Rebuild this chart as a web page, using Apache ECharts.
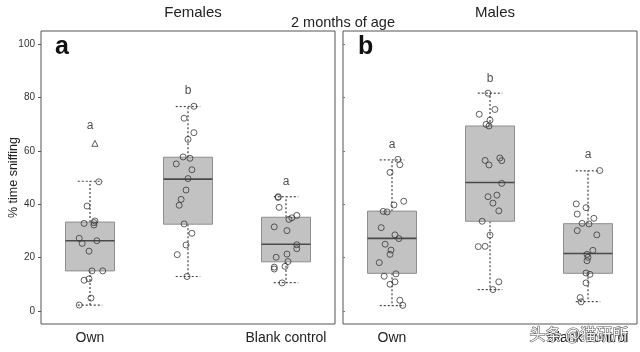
<!DOCTYPE html>
<html>
<head>
<meta charset="utf-8">
<script src="https://cdn.jsdelivr.net/npm/echarts@6/dist/echarts.min.js"></script>
<style>
  html, body { margin: 0; padding: 0; background: #fff; }
  #main { width: 640px; height: 352px; }
</style>
</head>
<body>
<div id="main"></div>
<script>
var groups = ['Own', 'Alien', 'Blank control'];
var yTicks = [0, 20, 40, 60, 80, 100];

// box stats: [low whisker, Q1, median, Q3, high whisker]
var femaleBoxes = [[2.2, 15, 26.3, 33.3, 48.6], [12.9, 32.5, 49.4, 57.6, 76.6], [10.6, 18.4, 25, 35.1, 42.8]];
var maleBoxes = [[2, 14.1, 27.2, 37.4, 56.6], [8, 33.6, 48.1, 69.3, 81.6], [3.5, 14.1, 21.5, 32.7, 52.5]];

// letters over each group
var femaleLetters = ['a', 'b', 'a'];
var maleLetters = ['a', 'b', 'a'];
var femaleLetterY = [69.3, 82.4, 48.4];
var maleLetterY = [62.4, 86.9, 58.4];

// individual animals (% time sniffing) and their horizontal jitter
var femaleOwn = [48.4, 39.3, 32.8, 33.7, 33.1, 32.2, 27.2, 25.3, 26.3, 22.4, 15, 15, 11.5, 12, 4.8, 2.2];
var femaleOwnJit = [.09, -.03, -.06, .05, .04, .04, -.11, -.08, .07, -.01, .02, .13, -.06, -.01, .01, -.11];
var femaleOwnOutlier = [62.8];
var femaleOwnOutlierJit = [.05];
var femaleAlien = [76.7, 72.2, 66.8, 64.3, 57.7, 57.2, 55.1, 52.9, 49.6, 45.3, 41.8, 39.6, 32.6, 29.1, 24.7, 21.1, 12.9];
var femaleAlienJit = [.06, -.04, .06, 0, -.05, .02, -.12, .04, 0, -.02, -.07, -.09, -.04, .04, -.02, -.11, -.01];
var femaleBlank = [42.8, 42.5, 38.8, 35.8, 34.9, 34.3, 31.5, 30.1, 24.8, 23.3, 21.3, 20.1, 18.5, 16.4, 15.7, 16.7, 10.5];
var femaleBlankJit = [-.08, -.08, -.07, .11, .06, .03, -.12, .01, .11, .11, .01, -.10, .02, -.12, -.12, -.01, -.04];

var maleOwn = [56.8, 54.8, 51.9, 41.1, 39.7, 37.3, 37.1, 31.2, 28.5, 27.1, 25, 22.8, 21.2, 18.1, 13.9, 13, 10.9, 10, 4, 2.1];
var maleOwnJit = [.06, .08, -.02, .12, .02, -.09, -.05, -.11, .03, .07, -.07, -.01, -.02, -.13, .04, -.08, .03, -.02, .08, .11];
var maleAlien = [81.6, 75.5, 73.7, 71.5, 69.9, 69.3, 56.4, 54.7, 57.3, 56.3, 47.8, 42.8, 43.4, 40.4, 37.5, 33.6, 28.4, 24.1, 24.2, 10.9, 8];
var maleAlienJit = [-.02, .05, -.11, 0, -.04, -.01, -.05, -.01, .10, .12, .12, -.02, .07, .03, .09, -.08, 0, -.12, -.05, .09, .03];
var maleBlank = [52.6, 40.1, 38.7, 36.3, 34.7, 32.8, 32.6, 30.1, 28.5, 22.7, 21.2, 20.1, 18.8, 14.2, 13.7, 10.5, 5, 3.4];
var maleBlankJit = [.12, -.12, -.02, -.11, .06, -.06, .01, -.11, .09, .05, -.01, 0, -.01, -.02, .02, -.02, -.08, -.07];

function jitterPoints(lists, jits, idx) {
    var out = [];
    for (var k = 0; k < lists.length; k++) {
        var g = idx[k];
        for (var j = 0; j < lists[k].length; j++) out.push([g + jits[k][j], lists[k][j]]);
    }
    return out;
}

var femalePts = jitterPoints([femaleOwn, femaleAlien, femaleBlank], [femaleOwnJit, femaleAlienJit, femaleBlankJit], [0, 1, 2]);
var malePts = jitterPoints([maleOwn, maleAlien, maleBlank], [maleOwnJit, maleAlienJit, maleBlankJit], [0, 1, 2]);
var femaleOutPts = jitterPoints([femaleOwnOutlier], [femaleOwnOutlierJit], [0]);

var FONT = '"Liberation Sans", Arial, sans-serif';
var dotted = { stroke: '#444', lineWidth: 1.2, lineDash: [2, 2] };

function renderBox(params, api) {
    var i = api.value(0);
    var w = api.size([1, 0])[0];
    var half = w * 0.25, cap = w * 0.125;
    var x = api.coord([i, 0])[0];
    var yLo = api.coord([i, api.value(1)])[1];
    var yQ1 = api.coord([i, api.value(2)])[1];
    var yMed = api.coord([i, api.value(3)])[1];
    var yQ3 = api.coord([i, api.value(4)])[1];
    var yHi = api.coord([i, api.value(5)])[1];
    return {
        type: 'group',
        children: [
            { type: 'line', shape: { x1: x, y1: yQ1, x2: x, y2: yLo }, style: dotted },
            { type: 'line', shape: { x1: x, y1: yQ3, x2: x, y2: yHi }, style: dotted },
            { type: 'line', shape: { x1: x - cap, y1: yLo, x2: x + cap, y2: yLo }, style: dotted },
            { type: 'line', shape: { x1: x - cap, y1: yHi, x2: x + cap, y2: yHi }, style: dotted },
            { type: 'rect', shape: { x: x - half, y: yQ3, width: half * 2, height: yQ1 - yQ3 },
              style: { fill: '#c2c2c2', stroke: '#8e8e8e', lineWidth: 1 } },
            { type: 'line', shape: { x1: x - half, y1: yMed, x2: x + half, y2: yMed },
              style: { stroke: '#4a4a4a', lineWidth: 1.6 } }
        ]
    };
}

function boxData(boxes) {
    return boxes.map(function (b, i) { return [i].concat(b); });
}
function letterData(letters, ys) {
    return letters.map(function (l, i) { return { name: l, value: [i, ys[i]] }; });
}

var chart = echarts.init(document.getElementById('main'));

var yBase = {
    type: 'value', min: -4.9, max: 104.9,
    splitLine: { show: false },
    axisLine: { show: false, onZero: false }
};
var catLabel = { fontSize: 14, color: '#222', margin: 7, fontFamily: FONT };

var option = {
    animation: false,
    backgroundColor: '#fff',
    textStyle: { fontFamily: FONT },
    title: [
        { text: 'Females', left: 188, top: 0, textAlign: 'center', textStyle: { fontSize: 15, fontWeight: 'normal', color: '#222', fontFamily: FONT } },
        { text: 'Males', left: 490, top: 0, textAlign: 'center', textStyle: { fontSize: 15, fontWeight: 'normal', color: '#222', fontFamily: FONT } },
        { text: '2 months of age', left: 338, top: 10, textAlign: 'center', textStyle: { fontSize: 14.5, fontWeight: 'normal', color: '#222', fontFamily: FONT } },
        { text: 'a', left: 50, top: 30, textStyle: { fontSize: 25, fontWeight: 'bold', color: '#111', fontFamily: FONT } },
        { text: 'b', left: 353, top: 30, textStyle: { fontSize: 25, fontWeight: 'bold', color: '#111', fontFamily: FONT } }
    ],
    grid: [
        { left: 41, top: 31, width: 294, height: 293, show: true, borderColor: '#555', borderWidth: 1, backgroundColor: '#fff' },
        { left: 343, top: 31, width: 294, height: 293, show: true, borderColor: '#555', borderWidth: 1, backgroundColor: '#fff' }
    ],
    xAxis: [
        { type: 'category', gridIndex: 0, data: groups, axisLine: { show: false, onZero: false }, axisTick: { show: false }, axisLabel: catLabel },
        { type: 'category', gridIndex: 1, data: groups, axisLine: { show: false, onZero: false }, axisTick: { show: false }, axisLabel: catLabel },
        { type: 'value', gridIndex: 0, min: -0.5, max: 2.5, show: false, axisLine: { onZero: false } },
        { type: 'value', gridIndex: 1, min: -0.5, max: 2.5, show: false, axisLine: { onZero: false } }
    ],
    yAxis: [
        Object.assign({}, yBase, {
            gridIndex: 0,
            name: '% time sniffing', nameLocation: 'middle', nameGap: 21, nameMoveOverlap: false,
            nameTextStyle: { fontSize: 12.5, color: '#222', fontFamily: FONT },
            axisTick: { show: true, length: 3, lineStyle: { color: '#555' }, customValues: yTicks },
            axisLabel: { fontSize: 10, color: '#333', margin: 6, customValues: yTicks, fontFamily: FONT }
        }),
        Object.assign({}, yBase, {
            gridIndex: 1,
            axisTick: { show: true, inside: true, length: 2, lineStyle: { color: '#777' }, customValues: yTicks },
            axisLabel: { show: false }
        })
    ],
    series: [
        { type: 'custom', xAxisIndex: 0, yAxisIndex: 0, renderItem: renderBox, data: boxData(femaleBoxes), z: 2 },
        { type: 'custom', xAxisIndex: 1, yAxisIndex: 1, renderItem: renderBox, data: boxData(maleBoxes), z: 2 },
        { type: 'scatter', xAxisIndex: 2, yAxisIndex: 0, data: femalePts, symbol: 'circle', symbolSize: 6, z: 3,
          itemStyle: { color: 'rgba(255,255,255,0)', borderColor: '#3a3a3a', borderWidth: 1 } },
        { type: 'scatter', xAxisIndex: 2, yAxisIndex: 0, data: femaleOutPts, symbol: 'triangle', symbolSize: 6, z: 3,
          itemStyle: { color: 'rgba(255,255,255,0)', borderColor: '#3a3a3a', borderWidth: 1 } },
        { type: 'scatter', xAxisIndex: 3, yAxisIndex: 1, data: malePts, symbol: 'circle', symbolSize: 6, z: 3,
          itemStyle: { color: 'rgba(255,255,255,0)', borderColor: '#3a3a3a', borderWidth: 1 } },
        { type: 'scatter', xAxisIndex: 0, yAxisIndex: 0, data: letterData(femaleLetters, femaleLetterY), symbolSize: 0,
          label: { show: true, position: 'inside', formatter: '{b}', fontSize: 12, color: '#222', fontFamily: FONT } },
        { type: 'scatter', xAxisIndex: 1, yAxisIndex: 1, data: letterData(maleLetters, maleLetterY), symbolSize: 0,
          label: { show: true, position: 'inside', formatter: '{b}', fontSize: 12, color: '#222', fontFamily: FONT } }
    ],
    graphic: [
        { type: 'text', left: 529, top: 325, z: 100,
          style: { text: '头条 @猫研所', fontSize: 16, fontFamily: '"Noto Sans CJK SC", sans-serif',
                   fill: '#f2f2f2', stroke: '#555', lineWidth: 1 } }
    ]
};

chart.setOption(option);
</script>
</body>
</html>
